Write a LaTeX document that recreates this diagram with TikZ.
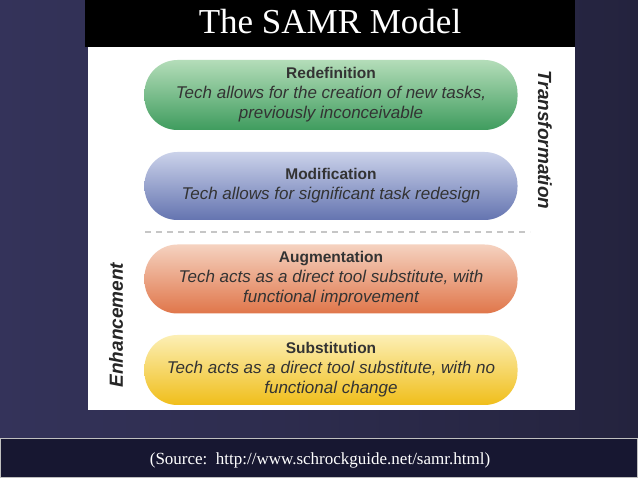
\documentclass[tikz,border=0pt]{standalone}
\usepackage{fontspec}
\setmainfont{Liberation Sans}
\newfontfamily\serifont{Liberation Serif}
\definecolor{bgA}{HTML}{34335A}
\definecolor{bgB}{HTML}{24233E}
\definecolor{gT}{HTML}{B4DDB9}\definecolor{gB}{HTML}{3F9C5E}
\definecolor{bT}{HTML}{CBD2EA}\definecolor{bB}{HTML}{6474B0}
\definecolor{oT}{HTML}{F5D2C0}\definecolor{oB}{HTML}{E0764A}
\definecolor{yT}{HTML}{FCEFB5}\definecolor{yB}{HTML}{F0BE1A}
\definecolor{barc}{HTML}{171731}
\begin{document}
\begin{tikzpicture}[x=1pt,y=-1pt,
  pill/.style={draw=none,rounded corners=33pt,minimum width=373pt,align=center,inner sep=0pt,font=\fontsize{17}{20}\selectfont,text=black!80},
  side/.style={font=\fontsize{19}{22}\selectfont\bfseries\itshape,text=black!85}]
\useasboundingbox (0,0) rectangle (638,478);
\fill[left color=bgA, right color=bgB] (0,0) rectangle (638,478);
\fill[black] (85,0) rectangle (575,47);
\node[text=white,font=\serifont\fontsize{35}{38}\selectfont] (title) at (330,22) {The SAMR Model};
\fill[white] (88,47) rectangle (575,410);
\node[pill,minimum height=70pt,top color=gT,bottom color=gB] (r) at (331,95)
 {{\fontsize{15.5}{20}\selectfont\textbf{Redefinition}}\\\itshape Tech allows for the creation of new tasks,\\\itshape previously inconceivable};
\node[pill,minimum height=68pt,top color=bT,bottom color=bB] (m) at (331,186)
 {{\fontsize{15.5}{20}\selectfont\textbf{Modification}}\\\itshape Tech allows for significant task redesign};
\draw[gray!45,line width=1.5pt,dash pattern=on 6pt off 5pt] (145,232) coordinate (d1) -- (530,232) coordinate (d2);
\node[pill,minimum height=69pt,top color=oT,bottom color=oB] (a) at (331,279)
 {{\fontsize{15.5}{20}\selectfont\textbf{Augmentation}}\\\itshape Tech acts as a direct tool substitute, with\\\itshape functional improvement};
\node[pill,minimum height=70pt,top color=yT,bottom color=yB] (s) at (331,370)
 {{\fontsize{15.5}{20}\selectfont\textbf{Substitution}}\\\itshape Tech acts as a direct tool substitute, with no\\\itshape functional change};
\node[side,rotate=-90] (t) at (545,140) {Transformation};
\node[side,rotate=90] (e) at (116,325) {Enhancement};
\fill[barc] (0,438) rectangle (638,478);
\draw[gray!50] (0.5,438) rectangle (637.5,477.5);
\node[text=white,font=\serifont\fontsize{17}{20}\selectfont] (src) at (320,460) {(Source:\ \ http://www.schrockguide.net/samr.html)};
\end{tikzpicture}
\end{document}
